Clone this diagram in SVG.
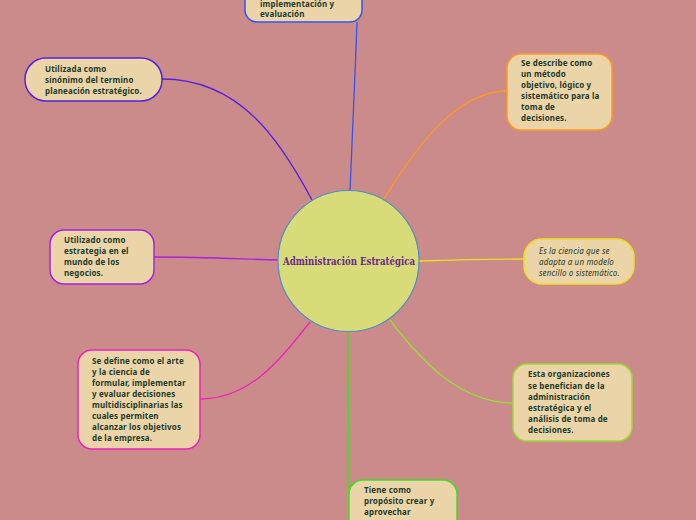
<svg xmlns="http://www.w3.org/2000/svg" width="696" height="520" viewBox="0 0 696 520">
<style>
.n{fill:#EAD4A8;stroke-width:1.5}
.t{font-family:"Noto Sans",sans-serif;font-size:8px;font-weight:700;fill:#1F3B2A;letter-spacing:0.15px}
.i{font-style:italic;font-weight:400}
.c{fill:none;stroke-width:1.3}
</style>
<rect width="696" height="520" fill="#CB8B8B"/>
<g id="connectors">
<path class="c" stroke="#3355EE" d="M357,22 C355,80 352,140 350,191"/>
<path class="c" stroke="#5522DD" d="M162,79 C240,79 280,140 312,200"/>
<path class="c" stroke="#FF9922" d="M507,91 C460,91 420,140 384,199"/>
<path class="c" stroke="#AA22DD" d="M154,257 C200,257 240,259 278,260"/>
<path class="c" stroke="#EEDD22" d="M524,259 C490,259 450,260 419,261"/>
<path class="c" stroke="#EE22BB" d="M200,399 C250,399 280,360 310,322"/>
<path class="c" stroke="#99DD33" d="M513,403 C460,403 420,360 390,320"/>
<path class="c" stroke="#44DD22" d="M348,332 L349,505"/>
</g>
<g id="center">
<circle cx="348.5" cy="261" r="70.5" fill="#D8DC78" stroke="#4A90C8" stroke-width="1.2"/>
<text x="349" y="264.5" text-anchor="middle" font-family="DejaVu Serif Condensed,DejaVu Serif,serif" font-size="11.5" font-weight="700" fill="#6A2A8A" textLength="132" lengthAdjust="spacingAndGlyphs">Administración Estratégica</text>
</g>
<g id="n1">
<rect class="n" x="245" y="-40" width="117" height="62" rx="12" stroke="#3355EE"/>
<text class="t" x="260"><tspan y="7">implementación y</tspan><tspan x="260" y="17">evaluación</tspan></text>
</g>
<g id="n2">
<rect class="n" x="25" y="58" width="137" height="43" rx="21" stroke="#5522DD"/>
<text class="t" x="45"><tspan y="72">Utilizada como</tspan><tspan x="45" y="83">sinónimo del termino</tspan><tspan x="45" y="94">planeación estratégico.</tspan></text>
</g>
<g id="n3">
<rect class="n" x="507" y="54" width="105" height="76" rx="14" stroke="#FF9922"/>
<text class="t" x="521"><tspan y="66">Se describe como</tspan><tspan x="521" y="77">un método</tspan><tspan x="521" y="88">objetivo, lógico y</tspan><tspan x="521" y="99">sistemático para la</tspan><tspan x="521" y="110">toma de</tspan><tspan x="521" y="121">decisiones.</tspan></text>
</g>
<g id="n4">
<rect class="n" x="50" y="230" width="104" height="54" rx="14" stroke="#AA22DD"/>
<text class="t" x="64"><tspan y="243">Utilizado como</tspan><tspan x="64" y="254">estrategia en el</tspan><tspan x="64" y="265">mundo de los</tspan><tspan x="64" y="276">negocios.</tspan></text>
</g>
<g id="n5">
<rect class="n" x="524" y="239" width="110" height="45" rx="18" stroke="#EEDD22"/>
<text class="t i" x="539"><tspan y="254">Es la ciencia que se</tspan><tspan x="539" y="265">adapta a un modelo</tspan><tspan x="539" y="276">sencillo o sistemático.</tspan></text>
</g>
<g id="n6">
<rect class="n" x="78" y="350" width="122" height="99" rx="14" stroke="#EE22BB"/>
<text class="t" x="92"><tspan y="364">Se define como el arte</tspan><tspan x="92" y="375">y la ciencia de</tspan><tspan x="92" y="386">formular, implementar</tspan><tspan x="92" y="397">y evaluar decisiones</tspan><tspan x="92" y="408">multidisciplinarias las</tspan><tspan x="92" y="419">cuales permiten</tspan><tspan x="92" y="430">alcanzar los objetivos</tspan><tspan x="92" y="441">de la empresa.</tspan></text>
</g>
<g id="n7">
<rect class="n" x="513" y="364" width="119" height="77" rx="14" stroke="#99DD33"/>
<text class="t" x="528"><tspan y="377">Esta organizaciones</tspan><tspan x="528" y="389">se benefician de la</tspan><tspan x="528" y="400">administración</tspan><tspan x="528" y="411">estratégica  y el</tspan><tspan x="528" y="422">análisis de toma de</tspan><tspan x="528" y="433">decisiones.</tspan></text>
</g>
<g id="n8">
<rect class="n" x="349" y="480" width="108" height="70" rx="14" stroke="#44DD22"/>
<text class="t" x="364"><tspan y="493">Tiene como</tspan><tspan x="364" y="504">propósito crear y</tspan><tspan x="364" y="515">aprovechar</tspan></text>
</g>
</svg>
